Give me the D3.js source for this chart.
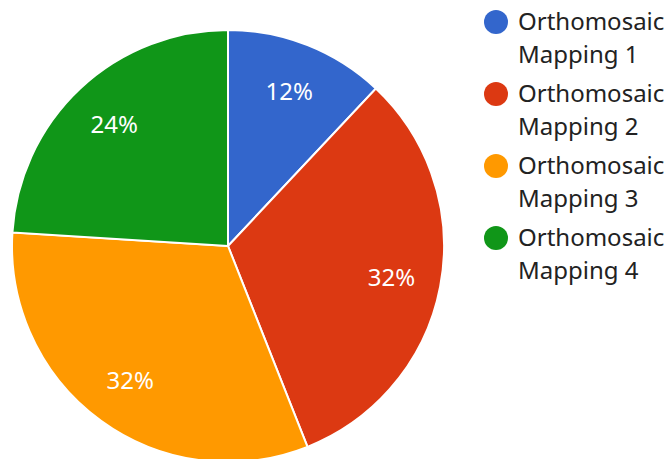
<!DOCTYPE html>
<html>
<head>
<meta charset="utf-8">
<script src="https://cdn.jsdelivr.net/npm/d3@7"></script>
<style>
body{margin:0;background:#fff;}
text{font-family:"Noto Sans",sans-serif;}
</style>
</head>
<body>
<svg id="chart" width="670" height="459"></svg>
<script>
var categories=["Orthomosaic Mapping 1","Orthomosaic Mapping 2","Orthomosaic Mapping 3","Orthomosaic Mapping 4"];
var counts=[3,8,8,6];
var colors=["#3366cc","#dc3912","#ff9900","#109618"];

var svg=d3.select("#chart");
var cx=228,cy=246,radius=216;

var pie=d3.pie().sort(null).value(d=>d);
var arc=d3.arc().innerRadius(0).outerRadius(radius);
var labelArc=d3.arc().innerRadius(radius*0.77).outerRadius(radius*0.77);
var total=d3.sum(counts);

var g=svg.append("g").attr("transform","translate("+cx+","+cy+")");
var slices=g.selectAll("g.slice").data(pie(counts)).enter().append("g").attr("class","slice");
slices.append("path")
	.attr("d",arc)
	.attr("fill",(d,i)=>colors[i])
	.attr("stroke","#fff")
	.attr("stroke-width",2);
slices.append("text")
	.attr("transform",d=>"translate("+labelArc.centroid(d)+")")
	.attr("text-anchor","middle")
	.attr("dy","0.35em")
	.attr("fill","#fff")
	.attr("font-size",24)
	.text(d=>Math.round(d.data/total*100)+"%");

var legend=svg.append("g").attr("transform","translate(496,22)");
var items=legend.selectAll("g").data(categories).enter().append("g")
	.attr("transform",(d,i)=>"translate(0,"+(i*72)+")");
items.append("circle").attr("r",12).attr("fill",(d,i)=>colors[i]);
var txt=items.append("text").attr("x",22).attr("font-size",24).attr("fill","#222");
txt.append("tspan").attr("x",22).attr("dy","0.35em").text(d=>d.split(" ")[0]);
txt.append("tspan").attr("x",22).attr("dy",33).text(d=>d.split(" ").slice(1).join(" "));
</script>
</body>
</html>
